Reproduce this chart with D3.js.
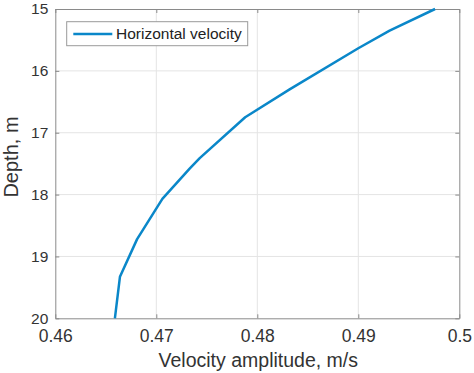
<!DOCTYPE html>
<html>
<head>
<meta charset="utf-8">
<script src="https://d3js.org/d3.v7.min.js"></script>
<style>
  body { margin: 0; background: #fff; }
  text { font-family: Arial, "Liberation Sans", sans-serif; }
</style>
</head>
<body>
<script>
// velocity profile
var velocity = [0.4659, 0.4664, 0.4681, 0.4706, 0.4733, 0.4743, 0.4788, 0.4832, 0.4900, 0.4931, 0.4976];
var depth    = [20.0,   19.33,  18.72,  18.07,  17.58,  17.41,  16.75,  16.30,  15.635, 15.35,  15.0];
var xTicks = [0.46, 0.47, 0.48, 0.49, 0.5];
var yTicks = [15, 16, 17, 18, 19, 20];
var seriesName = "Horizontal velocity";

var width = 474, height = 373;
var pLeft = 55.3, pRight = 459.3, pTop = 9, pBottom = 318.3;

var svg = d3.select("body").append("svg")
    .attr("width", width)
    .attr("height", height);

var x = d3.scaleLinear().domain([0.46, 0.5]).range([pLeft, pRight]);
var y = d3.scaleLinear().domain([15, 20]).range([pTop, pBottom]);

var axisColor = "#8a8a8a", textColor = "#333";

// grid
svg.append("g").selectAll("line").data(xTicks.slice(1, -1)).enter().append("line")
    .attr("x1", d => x(d)).attr("x2", d => x(d))
    .attr("y1", pTop).attr("y2", pBottom)
    .attr("stroke", "#e4e4e4").attr("stroke-width", 1);
svg.append("g").selectAll("line").data(yTicks.slice(1, -1)).enter().append("line")
    .attr("y1", d => y(d)).attr("y2", d => y(d))
    .attr("x1", pLeft).attr("x2", pRight)
    .attr("stroke", "#e4e4e4").attr("stroke-width", 1);

// axes (ticks inside, box on)
var xAxis = d3.axisBottom(x).tickValues(xTicks).tickSizeInner(-4).tickSizeOuter(0)
    .tickFormat(d => d === 0.5 ? "0.5" : d3.format(".2f")(d));
var yAxis = d3.axisLeft(y).tickValues(yTicks).tickSizeInner(-4).tickSizeOuter(0)
    .tickFormat(d3.format("d"));

var gx = svg.append("g").attr("transform", "translate(0," + pBottom + ")").call(xAxis);
var gy = svg.append("g").attr("transform", "translate(" + pLeft + ",0)").call(yAxis);
var gxt = svg.append("g").attr("transform", "translate(0," + pTop + ")")
    .call(d3.axisTop(x).tickValues(xTicks).tickSizeInner(-4).tickSizeOuter(0).tickFormat(""));
var gyr = svg.append("g").attr("transform", "translate(" + pRight + ",0)")
    .call(d3.axisRight(y).tickValues(yTicks).tickSizeInner(-4).tickSizeOuter(0).tickFormat(""));

[gx, gy, gxt, gyr].forEach(function(g) {
  g.select(".domain").attr("stroke", axisColor);
  g.selectAll(".tick line").attr("stroke", axisColor);
});
gx.selectAll(".tick text").attr("fill", textColor).style("font-size", "17.5px")
    .attr("dy", null).attr("y", 23.4);
gy.selectAll(".tick text").attr("fill", textColor).style("font-size", "15.5px").attr("x", -7);

// axis labels
svg.append("text")
    .attr("x", 258.3).attr("y", 366.5)
    .attr("text-anchor", "middle")
    .attr("fill", textColor)
    .style("font-size", "19.5px")
    .text("Velocity amplitude, m/s");
svg.append("text")
    .attr("transform", "translate(17.5,157)rotate(-90)")
    .attr("text-anchor", "middle")
    .attr("fill", textColor)
    .style("font-size", "20px")
    .text("Depth, m");

// the profile
var pts = velocity.map((v, i) => [v, depth[i]]);
var lineColor = "#0a87c9";
svg.append("path")
    .datum(pts)
    .attr("fill", "none")
    .attr("stroke", lineColor)
    .attr("stroke-width", 2.5)
    .attr("stroke-linejoin", "round")
    .attr("d", d3.line().x(d => x(d[0])).y(d => y(d[1])));

// legend
var lg = svg.append("g");
lg.append("rect")
    .attr("x", 66.7).attr("y", 21.7).attr("width", 181).attr("height", 24)
    .attr("fill", "#fff").attr("stroke", "#9a9a9a").attr("stroke-width", 1);
lg.append("line")
    .attr("x1", 73.3).attr("x2", 112.3).attr("y1", 34).attr("y2", 34)
    .attr("stroke", lineColor).attr("stroke-width", 2.5);
lg.append("text")
    .attr("x", 116).attr("y", 34).attr("dy", "0.35em")
    .attr("fill", "#222")
    .style("font-size", "15.5px")
    .text(seriesName);
</script>
</body>
</html>
